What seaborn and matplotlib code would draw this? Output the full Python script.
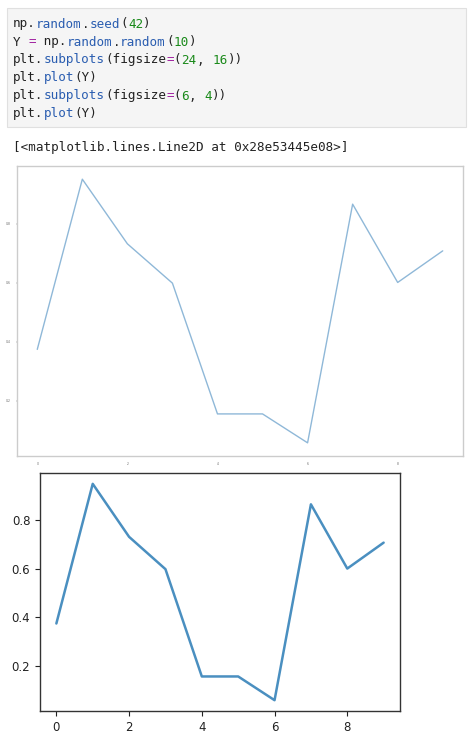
import numpy as np
import matplotlib
matplotlib.use("Agg")
import matplotlib.pyplot as plt
import seaborn as sns
from matplotlib.patches import Rectangle

x_idx = [0, 1, 2, 3, 4, 5, 6, 7, 8, 9]
y_vals = [0.3745, 0.9507, 0.7320, 0.5987, 0.1560, 0.1560, 0.0581, 0.8662, 0.6011, 0.7081]
x_ticks = [0, 2, 4, 6, 8]
y_ticks = [0.2, 0.4, 0.6, 0.8]

sns.set_style("white")
W, H = 474, 736
fig = plt.figure(figsize=(W/100, H/100), dpi=100)

def ax_px(x0, y0, x1, y1):
    return fig.add_axes([x0/W, 1 - y1/H, (x1-x0)/W, (y1-y0)/H])

fig.patches.append(Rectangle((7/W, 1-127/H), 459/W, 119/H, transform=fig.transFigure,
                             facecolor="#f5f5f5", edgecolor="#e0e0e0", lw=0.8))
mono = "DejaVu Sans Mono"
fs = 9.1
blue, green, purple, black = "#2a5db0", "#1a8a1a", "#a020a0", "#222222"
code = [
    [("np.", black), ("random", blue), (".", black), ("seed", blue), ("(", black), ("42", green), (")", black)],
    [("Y ", black), ("=", purple), (" np.", black), ("random", blue), (".", black), ("random", blue), ("(", black), ("10", green), (")", black)],
    [("plt.", black), ("subplots", blue), ("(figsize", black), ("=", purple), ("(", black), ("24", green), (", ", black), ("16", green), ("))", black)],
    [("plt.", black), ("plot", blue), ("(Y)", black)],
    [("plt.", black), ("subplots", blue), ("(figsize", black), ("=", purple), ("(", black), ("6", green), (", ", black), ("4", green), ("))", black)],
    [("plt.", black), ("plot", blue), ("(Y)", black)],
]
cw = fs / 72 * 100 * 0.602 + 0.05
for i, parts in enumerate(code):
    y = 24 + i*18
    xpos = 13
    for s, c in parts:
        fig.text(xpos/W, 1 - y/H, s, family=mono, fontsize=fs, color=c, va="center", ha="left")
        xpos += cw*len(s)
fig.text(13/W, 1-148/H, "[<matplotlib.lines.Line2D at 0x28e53445e08>]", family=mono,
         fontsize=fs, color=black, va="center")

ax1 = ax_px(17, 166, 463, 456)
sns.lineplot(x=x_idx, y=y_vals, ax=ax1, color="#8fb8d8", lw=1.0)
ax1.set_xlim(-0.45, 9.45)
ax1.set_ylim(0.0135, 0.9954)
ax1.set_xticks(x_ticks); ax1.set_yticks(y_ticks)
ax1.tick_params(labelsize=2.2, length=1, width=0.3, colors="#666666", left=True, bottom=True)
for s in ax1.spines.values():
    s.set_color("#cccccc"); s.set_linewidth(1.0)

ax2 = ax_px(40, 473, 400, 711)
sns.lineplot(x=x_idx, y=y_vals, ax=ax2, color="#4a8fc0", lw=1.8)
ax2.set_xlim(-0.45, 9.45)
ax2.set_ylim(0.0135, 0.9954)
ax2.set_xticks(x_ticks); ax2.set_yticks(y_ticks)
ax2.tick_params(labelsize=8.5, length=3.5, width=0.8, colors="#222222", left=True, bottom=True)
for s in ax2.spines.values():
    s.set_color("#333333"); s.set_linewidth(1.0)

fig.savefig("out.png", dpi=100)
